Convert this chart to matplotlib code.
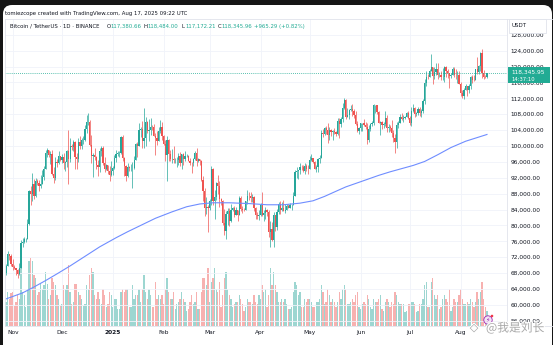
import numpy as np
import matplotlib
matplotlib.use('Agg')
import matplotlib.pyplot as plt
import matplotlib.dates as mdates
from matplotlib.patches import FancyBboxPatch, Rectangle, Circle
from matplotlib.transforms import IdentityTransform
from matplotlib.lines import Line2D
import matplotlib.patheffects as pe

# Data (prices in thousands of USDT), daily candles 2024-10-28 .. 2025-08-17
dates = np.arange(np.datetime64('2024-10-28'), np.datetime64('2025-08-18'))
first_open = 67.9
close = [69.9, 72.7, 72.3, 70.2,
         69.5, 69.3, 68.7, 67.8, 69.4, 75.6, 75.9, 76.5, 76.7, 80.4, 88.7, 87.9, 90.5, 87.4, 91.1, 90.6, 89.8, 90.5, 92.3, 94.3,
         98.3, 98.9, 97.7, 98.0, 93.0, 91.9, 95.9, 95.6, 97.4, 96.4,
         97.2, 95.8, 96.0, 98.8, 96.6, 99.9, 99.8, 101.1, 97.3, 96.6, 101.1, 100.0, 101.4, 101.4, 104.3, 106.0, 106.1, 100.2, 97.5, 97.8,
         97.2, 95.1, 94.7, 98.7, 99.4, 95.8, 94.2, 95.1, 93.7, 92.8, 93.6,
         94.4, 96.9, 98.1, 98.2, 98.3, 102.2, 96.9, 95.0, 92.5, 94.7, 94.5, 94.5, 94.5, 96.5, 100.5, 99.9, 104.1, 104.4, 101.3, 102.0,
         106.1, 103.7, 104.0, 104.8, 104.7, 102.6, 102.1, 101.3, 103.7, 104.7, 102.4,
         100.6, 97.7, 101.4, 97.9, 96.6, 96.6, 96.5, 96.5, 96.5, 97.4, 95.8, 98.0, 96.6, 97.5, 97.6, 96.1, 95.8, 95.6, 96.6, 98.3,
         96.1, 96.6, 96.3, 91.5, 88.7, 84.3, 84.7, 84.3,
         86.1, 94.3, 86.1, 87.2, 90.6, 89.9, 86.7, 86.2, 80.7, 78.5, 82.9, 83.7, 81.0, 83.9, 84.3, 82.6, 84.0, 82.7, 86.8, 84.2,
         84.0, 83.8, 86.1, 87.5, 87.4, 86.9, 87.2, 84.4, 82.6, 82.4, 82.5,
         85.2, 82.5, 83.1, 83.9, 83.5, 78.4, 79.1, 76.3, 82.6, 79.6, 83.4, 85.3, 83.8, 84.5, 83.6, 84.0, 84.9, 84.5, 85.1, 85.2,
         87.5, 93.4, 93.7, 93.9, 94.7, 94.6, 93.8, 95.0, 94.3, 94.2,
         96.5, 96.9, 95.9, 94.3, 94.7, 96.8, 97.0, 103.2, 102.9, 104.6, 104.1, 102.8, 104.1, 103.5, 103.7, 103.5, 103.1, 106.4, 105.6, 106.8,
         109.6, 111.7, 107.3, 107.8, 109.0, 109.4, 108.9, 107.8, 105.6, 103.9, 104.6,
         105.7, 105.8, 105.4, 104.7, 101.5, 104.3, 105.6, 105.7, 110.3, 110.3, 108.6, 105.7, 106.0, 105.4, 105.6, 107.1, 104.6, 104.9, 104.6, 103.3,
         102.1, 100.9, 105.4, 105.9, 107.3, 106.9, 107.1, 107.3, 108.4, 107.1,
         105.7, 108.8, 109.6, 108.0, 108.2, 109.2, 108.3, 108.9, 111.3, 115.9, 117.5, 117.4, 119.0, 119.8, 117.7, 118.7, 119.3, 117.9, 117.9, 117.3,
         117.4, 119.9, 118.8, 118.3, 117.6, 117.9, 119.4, 118.0, 117.8, 117.8, 115.7,
         113.3, 112.5, 114.2, 115.0, 114.1, 115.0, 117.5, 116.7, 116.5, 119.3, 118.7, 120.1, 123.3, 118.3, 117.4, 117.38, 118.35]
high = [70.3, 73.6, 72.9, 72.7,
        71.6, 70.0, 69.4, 69.0, 70.6, 76.4, 76.9, 77.2, 76.9, 81.5, 89.0, 89.9, 93.3, 91.8, 91.9, 91.8, 91.5, 92.6, 94.0, 94.9,
        99.0, 99.6, 98.9, 98.7, 98.9, 94.8, 97.3, 96.7, 98.7, 97.5,
        98.0, 98.2, 96.3, 99.0, 104.0, 101.9, 100.5, 101.4, 101.2, 98.3, 101.9, 102.5, 102.0, 102.6, 105.2, 107.8, 108.4, 106.5, 102.8, 98.2,
        99.5, 97.4, 96.4, 99.4, 99.9, 99.9, 97.3, 95.5, 95.2, 94.9, 96.2,
        94.9, 97.8, 98.9, 98.7, 98.8, 102.5, 102.7, 97.3, 95.3, 95.8, 95.0, 95.4, 95.9, 97.4, 100.7, 100.9, 105.9, 104.9, 106.3, 109.6,
        107.2, 106.3, 106.9, 107.1, 105.3, 105.5, 103.2, 103.8, 104.8, 106.5, 106.0,
        102.8, 101.5, 102.5, 101.7, 99.0, 99.2, 100.1, 96.9, 97.3, 98.3, 98.5, 98.1, 98.2, 98.8, 97.9, 97.7, 97.0, 96.0, 96.9, 98.8,
        99.5, 96.9, 96.7, 96.5, 92.5, 89.3, 87.1, 85.1,
        86.6, 95.0, 94.4, 88.9, 91.0, 92.8, 91.2, 86.9, 86.5, 84.1, 83.6, 84.4, 84.3, 85.3, 84.7, 85.0, 84.7, 84.0, 87.5, 87.4,
        84.8, 84.5, 86.1, 88.8, 88.5, 88.3, 87.8, 87.5, 84.6, 83.5, 83.9,
        85.6, 88.5, 83.9, 84.7, 84.2, 83.8, 81.2, 80.8, 83.5, 82.7, 84.2, 85.9, 86.1, 85.8, 86.5, 85.5, 85.5, 85.3, 85.6, 85.3,
        88.5, 93.9, 94.7, 94.0, 95.8, 95.3, 95.2, 95.6, 95.5, 95.2,
        97.4, 97.9, 96.9, 96.3, 95.2, 96.9, 97.7, 104.0, 104.3, 104.9, 105.0, 105.8, 104.9, 104.4, 104.1, 104.6, 103.7, 107.1, 107.1, 107.3,
        110.8, 112.0, 111.9, 109.5, 109.3, 110.4, 110.7, 109.3, 108.9, 106.3, 104.9,
        105.9, 105.9, 106.8, 106.0, 105.9, 105.3, 105.9, 106.4, 110.5, 110.4, 110.4, 108.8, 106.2, 106.2, 106.0, 108.9, 107.8, 105.6, 105.3, 106.5,
        104.0, 103.1, 106.1, 106.3, 108.1, 108.3, 107.8, 107.6, 108.5, 108.8,
        107.5, 109.8, 110.5, 109.8, 108.5, 109.7, 109.7, 109.2, 111.9, 116.9, 118.9, 118.2, 119.5, 123.2, 119.9, 120.0, 120.8, 120.9, 118.6, 118.9,
        119.7, 120.2, 120.1, 119.5, 118.5, 118.3, 119.8, 119.8, 119.3, 118.8, 118.9,
        116.1, 114.1, 114.7, 115.7, 115.1, 115.7, 117.6, 117.9, 117.9, 119.3, 122.3, 120.3, 123.7, 124.5, 119.2, 117.9, 118.48]
low = [67.6, 69.7, 71.4, 69.7,
       68.8, 69.0, 67.5, 66.8, 67.5, 69.3, 74.5, 75.6, 75.8, 76.5, 80.2, 85.1, 86.2, 86.7, 87.1, 90.1, 88.7, 89.4, 90.4, 91.5,
       94.1, 97.2, 97.2, 95.4, 92.6, 90.8, 91.4, 94.7, 95.4, 96.2,
       95.7, 94.2, 93.6, 94.7, 90.5, 95.9, 98.9, 98.7, 94.2, 94.2, 95.9, 99.3, 99.2, 100.6, 101.2, 103.3, 105.3, 100.0, 95.7, 92.2,
       96.4, 94.2, 92.4, 93.4, 97.6, 95.1, 93.4, 94.0, 93.0, 91.3, 92.5,
       92.8, 94.2, 96.0, 97.5, 97.3, 97.9, 96.1, 92.5, 91.2, 92.2, 93.8, 93.7, 89.3, 94.3, 96.5, 97.3, 99.9, 102.3, 99.6, 99.6,
       100.1, 103.3, 101.3, 102.8, 104.1, 102.5, 97.8, 100.3, 101.3, 103.3, 101.6,
       100.3, 96.2, 91.2, 96.2, 96.2, 95.7, 95.7, 95.7, 94.7, 95.3, 94.9, 94.1, 95.2, 96.3, 97.2, 96.1, 95.2, 93.3, 95.0, 96.4,
       94.9, 95.9, 95.2, 91.2, 86.1, 82.3, 82.8, 78.3,
       83.8, 85.1, 85.1, 81.5, 86.3, 87.8, 84.7, 85.2, 80.0, 77.5, 76.6, 80.1, 79.9, 80.8, 83.6, 82.0, 82.5, 81.1, 82.5, 83.6,
       83.2, 83.6, 83.8, 85.5, 86.3, 85.9, 85.8, 83.6, 81.6, 81.6, 81.3,
       82.4, 82.3, 81.2, 81.7, 82.4, 77.2, 74.5, 76.2, 74.6, 78.5, 78.9, 82.8, 83.0, 83.7, 83.6, 83.1, 83.9, 84.3, 84.4, 83.9,
       85.1, 87.5, 91.9, 91.7, 92.9, 93.9, 93.4, 92.9, 93.8, 92.9,
       94.1, 96.3, 95.7, 94.2, 93.5, 93.4, 95.8, 96.9, 102.3, 102.8, 103.0, 100.7, 101.4, 102.6, 101.4, 103.1, 102.6, 102.8, 102.0, 104.9,
       106.1, 109.3, 106.8, 107.3, 106.7, 108.7, 107.6, 107.1, 105.3, 103.6, 103.1,
       103.9, 103.7, 105.1, 104.2, 100.4, 101.1, 103.8, 105.1, 105.3, 108.4, 108.1, 105.7, 102.7, 104.3, 104.5, 105.1, 103.4, 103.5, 103.9, 102.3,
       101.0, 98.2, 99.6, 104.6, 105.7, 106.6, 106.1, 106.8, 107.2, 106.7,
       105.3, 105.1, 108.6, 107.3, 107.5, 107.8, 107.5, 107.4, 108.4, 110.6, 115.2, 116.9, 117.3, 118.9, 115.7, 116.9, 117.8, 116.8, 117.3, 116.5,
       116.5, 116.1, 117.3, 117.1, 114.7, 117.2, 117.8, 117.4, 116.9, 115.8, 115.5,
       112.7, 112.0, 111.9, 114.1, 112.7, 113.4, 114.3, 115.9, 116.3, 116.5, 118.1, 118.2, 118.9, 117.2, 116.8, 117.2, 117.17]
volume = [35, 50, 40, 48,
          50, 30, 35, 45, 40, 85, 50, 45, 28, 55, 95, 100, 95, 75, 70, 45, 50, 62, 55, 60, 80, 62, 40, 45, 70, 65, 60, 45, 40, 30,
          32, 60, 55, 60, 90, 50, 32, 35, 62, 62, 50, 45, 40, 30, 32, 60, 55, 75, 85, 80, 45, 40, 50, 40, 32, 55, 45, 28, 32, 50, 45,
          28, 40, 40, 25, 25, 50, 55, 50, 55, 55, 28, 28, 60, 40, 45, 45, 55, 35, 55, 75, 50, 40, 55, 45, 28, 28, 65, 40, 45, 40, 45,
          32, 55, 70, 50, 40, 40, 50, 25, 32, 35, 40, 50, 40, 35, 22, 25, 35, 45, 32, 35, 50, 25, 25, 50, 70, 70, 60, 85,
          35, 65, 70, 85, 55, 50, 65, 28, 45, 70, 80, 55, 45, 40, 28, 32, 35, 35, 45, 40, 32, 22, 28, 40, 35, 35, 32, 45, 35, 32, 45,
          40, 60, 50, 55, 28, 45, 85, 60, 80, 60, 50, 35, 35, 40, 35, 40, 32, 25, 25, 28, 50, 65, 60, 45, 50, 28, 28, 40, 35, 40,
          40, 35, 28, 28, 35, 35, 40, 60, 50, 32, 35, 55, 45, 35, 40, 35, 28, 35, 50, 40, 55, 60, 55, 32, 32, 35, 40, 35, 45, 50, 28,
          25, 32, 35, 32, 45, 40, 28, 25, 40, 35, 35, 40, 45, 25, 22, 35, 40, 35, 28, 35, 32, 50, 45, 35, 32, 32, 32, 20, 22, 32,
          32, 35, 35, 32, 20, 22, 32, 32, 40, 60, 65, 28, 28, 65, 70, 45, 40, 45, 25, 28, 40, 45, 40, 35, 55, 22, 28, 40, 35, 35, 45,
          55, 40, 32, 32, 35, 32, 40, 35, 28, 35, 50, 40, 50, 65, 40, 28, 22]

# 200-day moving average
ma_dates = np.array(['2024-10-28', '2024-11-07', '2024-11-14', '2024-11-21', '2024-11-28', '2024-12-06',
                     '2024-12-15', '2024-12-24', '2025-01-03', '2025-01-10', '2025-01-17', '2025-01-27',
                     '2025-02-06', '2025-02-15', '2025-02-23', '2025-03-03', '2025-03-13', '2025-03-25',
                     '2025-04-05', '2025-04-15', '2025-04-25', '2025-05-03', '2025-05-10', '2025-05-17',
                     '2025-05-23', '2025-06-01', '2025-06-12', '2025-06-19', '2025-06-26', '2025-07-03',
                     '2025-07-10', '2025-07-18', '2025-07-26', '2025-08-04', '2025-08-17'], dtype='datetime64[D]')
ma_vals = [61.5, 63.0, 64.5, 66.1, 67.8, 69.8,
           72.2, 74.6, 76.9, 78.4, 79.8, 81.8,
           83.4, 84.7, 85.4, 85.7, 85.7, 85.5,
           85.2, 85.2, 85.6, 86.2, 87.3, 88.6,
           89.7, 91.0, 92.6, 93.5, 94.3, 95.1,
           96.1, 97.8, 99.6, 101.2, 102.9]

month_ticks = np.array(['2024-11-01', '2024-12-01', '2025-01-01', '2025-02-01', '2025-03-01', '2025-04-01',
                        '2025-05-01', '2025-06-01', '2025-07-01', '2025-08-01'], dtype='datetime64[D]')
month_labels = ['Nov', 'Dec', '2025', 'Feb', 'Mar', 'Apr', 'May', 'Jun', 'Jul', 'Aug']
price_ticks = list(range(56000, 132000, 4000))
last_price = 118345.95

UP, DOWN = '#26a69a', '#ef5350'
W, H = 553, 345

close = np.array(close) * 1000
high = np.array(high) * 1000
low = np.array(low) * 1000
opn = np.concatenate([[first_open * 1000], close[:-1]])
opn[-1] = 117380.66
up = close >= opn
colors = np.where(up, UP, DOWN)

fig = plt.figure(figsize=(W / 100, H / 100), dpi=100, facecolor='#151515')

def fx(px):
    return px / W

def fy(py):
    return 1 - py / H

# white card with rounded corners
card = FancyBboxPatch((3, -30), 549, 370, boxstyle='round,pad=0,rounding_size=9',
                      transform=IdentityTransform(), facecolor='white', edgecolor='none', zorder=-5)
fig.add_artist(card)

rect = [fx(5), fy(326), fx(507) - fx(5), fy(19) - fy(326)]
x0 = mdates.date2num(np.datetime64('2024-11-01'))
xlim = (x0 - 4.69, x0 + 301.2)

# volume (behind)
axv = fig.add_axes(rect)
axv.set_facecolor('none')
axv.bar(dates, volume, width=0.8, color=colors, alpha=0.45, linewidth=0)
axv.set_xlim(xlim)
axv.set_ylim(0, 100 * 307 / 68)
axv.axis('off')

# price
ax = fig.add_axes(rect)
ax.set_facecolor('none')
ax.grid(True, color='#f0f3fa', linewidth=0.6)
ax.set_axisbelow(True)
ax.vlines(dates, low, high, colors=colors, linewidth=0.5)
body = np.maximum(np.abs(close - opn), 60)
ax.bar(dates, body, bottom=np.minimum(opn, close), width=0.75, color=colors, linewidth=0)
ax.plot(ma_dates, np.array(ma_vals) * 1000, color='#6f8dff', linewidth=0.8)
ax.axhline(last_price, color='#22ab94', linewidth=0.6, linestyle=(0, (1, 1.5)))

ax.set_xlim(xlim)
ax.set_ylim(54670, 131980)
ax.yaxis.tick_right()
ax.set_yticks(price_ticks)
ax.set_yticklabels([f'{v:,.2f}' for v in price_ticks])
ax.set_xticks(month_ticks)
ax.set_xticklabels(month_labels)
ax.tick_params(axis='y', length=0, pad=2.4, labelsize=4.2, labelcolor='#131722')
ax.tick_params(axis='x', length=0, pad=2.6, labelsize=4.2, labelcolor='#131722')
ax.get_xticklabels()[2].set_fontweight('bold')
for s in ax.spines.values():
    s.set_color('#e0e3eb')
    s.set_linewidth(0.6)

# lines of the price/time axis area
fig.add_artist(Line2D([fx(507), fx(552)], [fy(19), fy(19)], color='#e0e3eb', lw=0.6))
fig.add_artist(Line2D([fx(507), fx(552)], [fy(326), fy(326)], color='#e0e3eb', lw=0.6))

# currency box
fig.add_artist(Rectangle((509, H - 33), 37, 14, transform=IdentityTransform(),
                         facecolor='white', edgecolor='#e0e3eb', lw=0.6, zorder=5))
fig.text(fx(512), fy(25.5), 'USDT', fontsize=4.0, color='#131722', va='center', zorder=6)

# last price label
fig.add_artist(Rectangle((508, H - 83), 42, 16, transform=IdentityTransform(),
                         facecolor='#22ab94', edgecolor='none', zorder=5))
fig.text(fx(511), fy(72), f'{last_price:,.2f}', fontsize=4.2, color='white', va='center', zorder=6)
fig.text(fx(511), fy(79.5), '14:37:10', fontsize=3.8, color='white', va='center', zorder=6)

# header
fig.text(fx(5), fy(13.3), 'tomiezcope created with TradingView.com, Aug 17, 2025 09:22 UTC',
         fontsize=3.9, color='#131722', va='center')
fig.text(fx(10), fy(26.5), 'Bitcoin / TetherUS · 1D · BINANCE', fontsize=3.9, color='#131722', va='center')
for px, key, val in [(107, 'O', '117,380.66'), (144, 'H', '118,484.00'),
                     (182, 'L', '117,172.21'), (218, 'C', '118,345.96')]:
    fig.text(fx(px), fy(26.5), key, fontsize=3.9, color='#131722', va='center')
    fig.text(fx(px + 3.3), fy(26.5), val, fontsize=3.9, color='#22ab94', va='center')
fig.text(fx(254), fy(26.5), '+965.29 (+0.82%)', fontsize=3.9, color='#22ab94', va='center')

# flash icon
fig.add_artist(Circle((488, H - 320), 4.2, transform=IdentityTransform(),
                      facecolor='#f3e5f5', edgecolor='#9c27b0', lw=0.6, zorder=5))
fig.text(fx(488), fy(320), '⚡', fontsize=4.5, color='#9c27b0', ha='center', va='center', zorder=6)
fig.add_artist(Circle((492, H - 316), 1.3, transform=IdentityTransform(),
                      facecolor='#f23645', edgecolor='none', zorder=7))

# watermark
fig.text(fx(474), fy(328), '◇', fontsize=8, color='#a0a0a0', ha='center', va='center', zorder=8,
         path_effects=[pe.withStroke(linewidth=1.5, foreground='white')])
fig.text(fx(486), fy(328), '@我是刘长', fontsize=8.5, color='#a8a8a8', va='center', zorder=8,
         family=['Noto Sans CJK SC', 'DejaVu Sans'],
         path_effects=[pe.withStroke(linewidth=1.5, foreground='white')])

fig.savefig('out.png', dpi=100, facecolor=fig.get_facecolor())
